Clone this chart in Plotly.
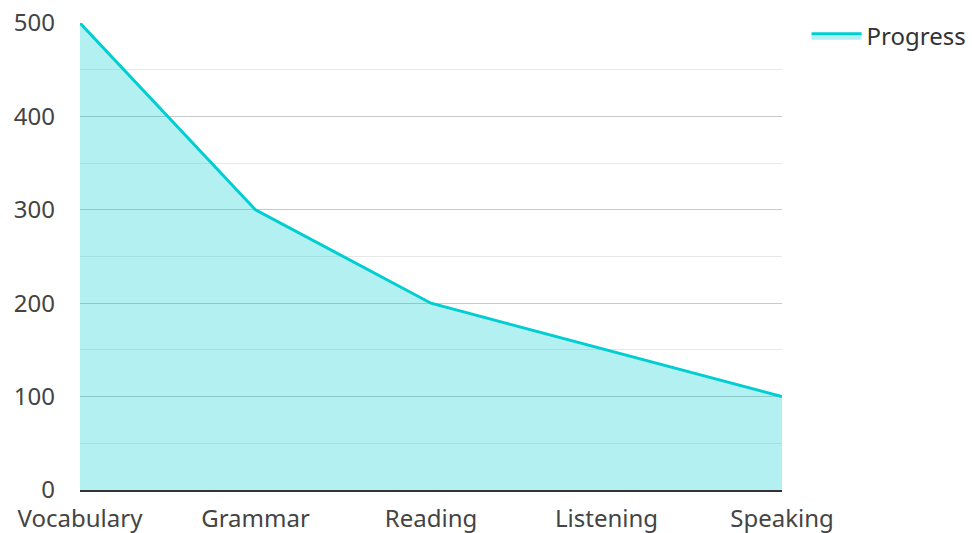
import plotly.graph_objects as go

categories = ["Vocabulary", "Grammar", "Reading", "Listening", "Speaking"]
progress = [500, 300, 200, 150, 100]
y_ticks = [0, 100, 200, 300, 400, 500]

fig = go.Figure()
fig.add_trace(go.Scatter(
    x=categories, y=progress, name="Progress", mode="lines",
    line=dict(color="#00CED1", width=3),
    fill="tozeroy", fillcolor="rgba(0,206,209,0.3)",
    showlegend=True,
))

fig.update_layout(
    width=972, height=533,
    margin=dict(l=80, r=190, t=23, b=43, autoexpand=False),
    paper_bgcolor="white", plot_bgcolor="white",
    font=dict(family="Noto Sans", size=24, color="#444"),
    legend=dict(x=1.035, y=1.02, xanchor="left", yanchor="top", itemwidth=50,
                font=dict(size=24, color="#333")),
    xaxis=dict(range=[0, 4], showgrid=False, showline=True, linecolor="#333",
               linewidth=2, ticks="", zeroline=False, automargin=False,
               ticklabelstandoff=6),
    yaxis=dict(range=[0, 500], tickvals=y_ticks, showgrid=True, gridcolor="#c8c8c8",
               gridwidth=1, zeroline=False, showline=False, ticks="", automargin=False,
               ticklabelstandoff=24,
               minor=dict(dtick=50, showgrid=True, gridcolor="#e8e8e8", gridwidth=1)),
)

fig.write_html("out.html", config={"displayModeBar": False},
               post_script="document.body.style.margin='0';")
